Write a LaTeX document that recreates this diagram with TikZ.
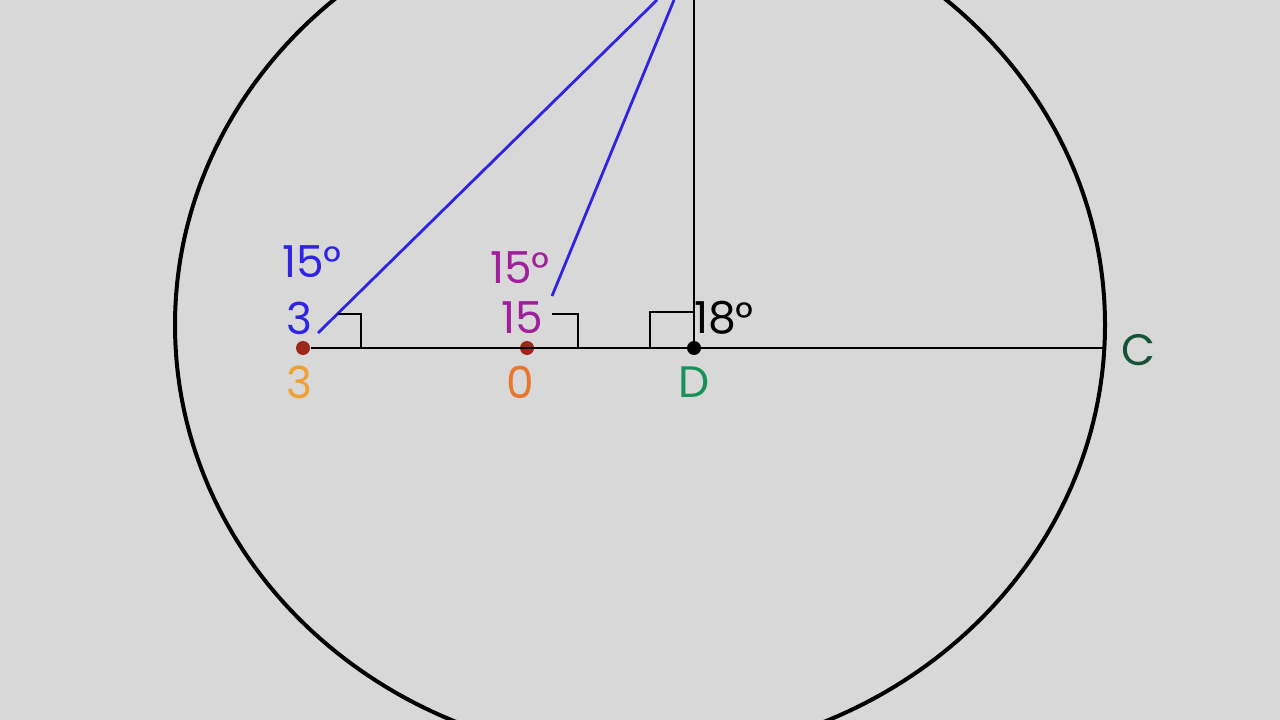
\documentclass[tikz,border=0pt]{standalone}
\usepackage{fontspec}
\setmainfont{Poppins}
\definecolor{bgc}{RGB}{216,216,216}
\definecolor{lineblue}{RGB}{48,36,228}
\definecolor{labpurple}{RGB}{160,32,156}
\definecolor{laborange}{RGB}{240,160,48}
\definecolor{labdorange}{RGB}{232,118,44}
\definecolor{labgreen}{RGB}{22,145,90}
\definecolor{labdgreen}{RGB}{22,82,56}
\definecolor{dotred}{RGB}{156,40,28}
\tikzset{every picture/.style={line width=0.75pt}}
\tikzset{
  dot/.style={circle,inner sep=0pt,minimum size=10.5pt,fill=#1},
  lab/.style={inner sep=0.75pt,font=\fontsize{33}{38}\selectfont,text=#1},
  rightmark/.style={line width=2.1pt,black}
}

\begin{document}
\begin{tikzpicture}[x=0.75pt,y=0.75pt,yscale=-1,xscale=1]
        %background
        \fill[bgc] (0,0) rectangle (1280,720);
        \clip (0,0) rectangle (1280,720);

        %Shape: Ellipse
        \draw[line width=3pt] (640,325) ellipse [x radius=465, y radius=432];

        %Points
        \node[dot=dotred] (A) at (303,348) {};
        \node[dot=dotred] (O) at (527,348) {};
        \node[dot=black] (D) at (694,348) {};
        \coordinate (C) at (1104,348);
        \coordinate (F1) at (318,333);
        \coordinate (F2) at (552,296);
        \coordinate (T1) at (657,0);
        \coordinate (T2) at (674,0);
        \coordinate (TD) at (694,0);

        %Straight Lines
        \draw[line width=2.2pt] (A) -- (C);
        \draw[line width=2.1pt] (D.center) -- (TD);
        \draw[line width=2.1pt,lineblue] (F1) -- (T1);
        \draw[line width=2.1pt,lineblue] (F2) -- (T2);

        %Right angle marks
        \draw[rightmark] ([shift={(35,-34)}]A.center) -- ++(23,0) -- ++(0,34);
        \draw[rightmark] ([shift={(25,-34)}]O.center) -- ++(26,0) -- ++(0,34);
        \draw[rightmark] ([shift={(-44,0)}]D.center) -- ++(0,-36) -- ++(44,0);

        % Text Node
        \node[lab=lineblue] (a1) at (312,262) {15°};
        \node[lab=lineblue] (a2) at (299,318) {3};
        \node[lab=labpurple] (b1) at (520,268) {15°};
        \node[lab=labpurple] (b2) at (522,318) {15};
        \node[lab=black] (d1) at (724,318) {18°};
        \node[lab=laborange] (A-lab) at (299,382) {3};
        \node[lab=labdorange] (O-lab) at (520,382) {0};
        \node[lab=labgreen] (D-lab) at (694,382) {D};
        \node[lab=labdgreen] (C-lab) at (1138,350) {C};

\end{tikzpicture}
\end{document}
